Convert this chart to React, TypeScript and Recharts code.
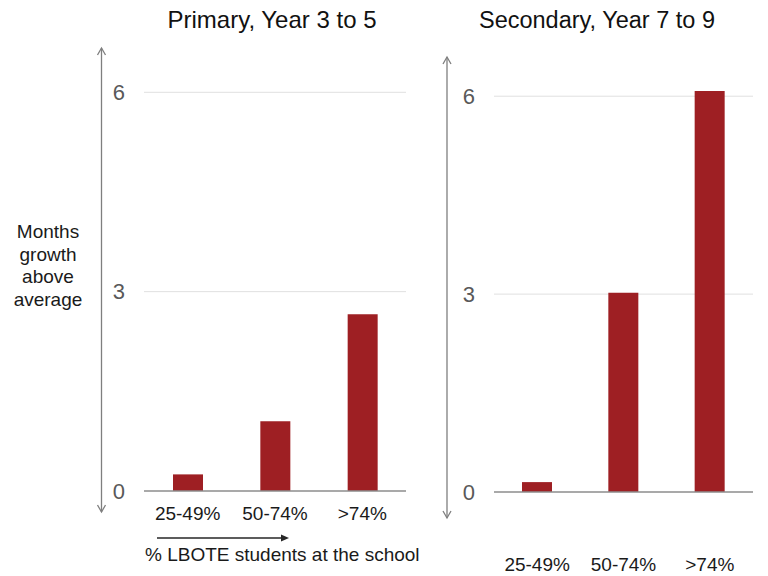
import React from 'react';
import { BarChart, Bar, XAxis, YAxis, CartesianGrid } from 'recharts';

// months of growth above average, by share of LBOTE students
const categories = ['25-49%', '50-74%', '>74%'];
const primaryGrowth = [0.25, 1.05, 2.66];
const secondaryGrowth = [0.15, 3.02, 6.08];
const yTicks = [0, 3, 6];

const primaryData = categories.map((name, i) => ({ name, value: primaryGrowth[i] }));
const secondaryData = categories.map((name, i) => ({ name, value: secondaryGrowth[i] }));

const FONT = '"Liberation Sans", Arial, sans-serif';
const BAR = '#9e1f23';
const AXIS_GREY = '#7f7f7f';

type ChartProps = {
  data: { name: string; value: number }[];
  width: number;
  top: number;
  right: number;
  yWidth: number;
  xHeight: number;
  labelGap: number;
};

function GrowthChart({ data, width, top, right, yWidth, xHeight, labelGap }: ChartProps) {
  return (
    <BarChart width={width} height={576} data={data} margin={{ top, right, bottom: 0, left: 0 }} barSize={30}>
      {/* gridlines only at the labelled ticks above zero, behind the bars */}
      <CartesianGrid vertical={false} horizontalValues={yTicks.filter(t => t > 0)} stroke="#e0e0e0" />
      <XAxis
        dataKey="name"
        height={xHeight}
        interval={0}
        axisLine={{ stroke: '#8c8c8c', strokeWidth: 1.5 }}
        tickLine={false}
        tickSize={0}
        tickMargin={labelGap}
        tick={{ fontSize: 19, fill: '#1a1a1a' }}
      />
      <YAxis
        domain={[0, 6.2]}
        ticks={yTicks}
        width={yWidth}
        axisLine={false}
        tickLine={false}
        tickSize={0}
        tickMargin={19}
        tick={{ fontSize: 22, fill: '#595959' }}
      />
      <Bar dataKey="value" fill={BAR} isAnimationActive={false} />
    </BarChart>
  );
}

function VArrow({ x, y1, y2 }: { x: number; y1: number; y2: number }) {
  return (
    <g stroke={AXIS_GREY} strokeWidth={1.3} fill="none">
      <line x1={x} y1={y1} x2={x} y2={y2} />
      <polyline points={`${x - 4},${y1 + 7} ${x},${y1} ${x + 4},${y1 + 7}`} />
      <polyline points={`${x - 4},${y2 - 7} ${x},${y2} ${x + 4},${y2 - 7}`} />
    </g>
  );
}

export default function App() {
  return (
    <div style={{ position: 'absolute', left: 0, top: 0, width: 768, height: 576, background: '#fff', fontFamily: FONT }}>
      <div style={{ position: 'absolute', left: 0, top: 0 }}>
        <GrowthChart data={primaryData} width={420} top={79} right={14} yWidth={144} xHeight={85} labelGap={16} />
      </div>
      <div style={{ position: 'absolute', left: 430, top: 0 }}>
        <GrowthChart data={secondaryData} width={338} top={83} right={15} yWidth={64} xHeight={84} labelGap={66} />
      </div>
      <svg width={768} height={576} style={{ position: 'absolute', left: 0, top: 0, pointerEvents: 'none' }}>
        <text x={272} y={28} textAnchor="middle" fontSize={24} fill="#111">Primary, Year 3 to 5</text>
        <text x={597} y={28} textAnchor="middle" fontSize={23.5} fill="#111">Secondary, Year 7 to 9</text>

        <VArrow x={101.5} y1={48} y2={512} />
        <VArrow x={447} y1={57} y2={518} />

        <g fontSize={19} fill="#1a1a1a" textAnchor="middle">
          <text x={48} y={238}>Months</text>
          <text x={48} y={260.5}>growth</text>
          <text x={48} y={283}>above</text>
          <text x={48} y={305.5}>average</text>
        </g>

        <line x1={157} y1={538} x2={282} y2={538} stroke="#262626" strokeWidth={1.5} />
        <polygon points="281,534.5 289,538 281,541.5" fill="#262626" />
        <text x={145} y={561} fontSize={19} fill="#1a1a1a">% LBOTE students at the school</text>
      </svg>
    </div>
  );
}
